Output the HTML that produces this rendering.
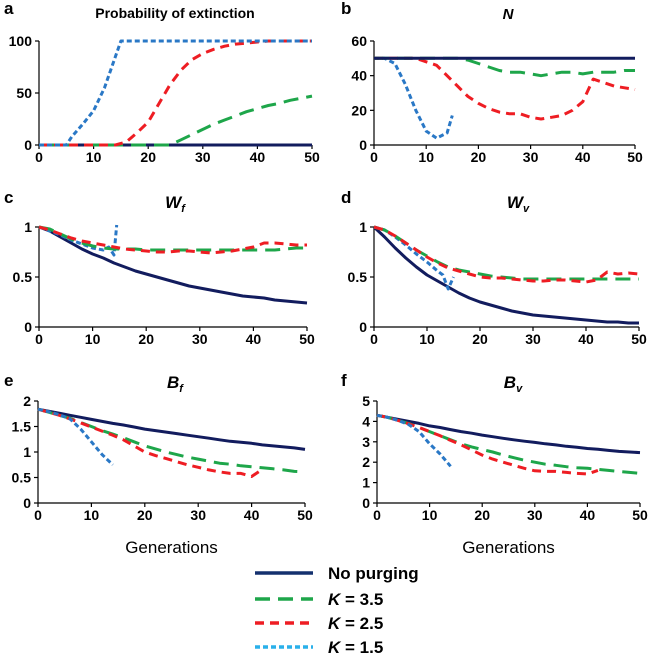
<!DOCTYPE html>
<html><head><meta charset="utf-8"><style>
html,body{margin:0;padding:0;background:#fff;}
svg{display:block;font-family:"Liberation Sans",sans-serif;}
</style></head><body>
<svg id="fig" width="651" height="655" viewBox="0 0 651 655" xmlns="http://www.w3.org/2000/svg"></svg>
<script>
// ---------- data ----------
const gens = [0,2,4,6,8,10,12,14,16,18,20,22,24,26,28,30,32,34,36,38,40,42,44,46,48,50];
const seriesNames = ["No purging","K = 3.5","K = 2.5","K = 1.5"];

const extNo  = [0,0,0,0,0,0,0,0,0,0,0,0,0,0,0,0,0,0,0,0,0,0,0,0,0,0];
const ext35  = [0,0,0,0,0,0,0,0,0,0,0,0,0,5,10,15,20,24,28,32,35,38,40,43,45,47];
const ext25  = [0,0,0,0,0,0,0,0,3,12,22,40,58,72,82,88,92,95,97,98,99,100,100,100,100,100];
const ext15Gens = [0,2,4,5,6,8,10,12,14,15,20,30,40,50];
const ext15  = [0,0,0,0,8,20,33,55,85,100,100,100,100,100];

const nNo = [50,50,50,50,50,50,50,50,50,50,50,50,50,50,50,50,50,50,50,50,50,50,50,50,50,50];
const n35 = [50,50,50,50,50,50,50,50,50,49,47,45,43,42,42,41,40,41,42,42,41,42,42,42,43,43];
const n25 = [50,50,50,50,50,48,46,40,34,28,24,21,19,18,18,16,15,16,17,20,25,38,36,34,33,32];
const n15Gens = [0,2,4,6,8,10,12,14,15];
const n15 = [50,50,47,35,20,8,4,7,17];

const wfNo = [1,.96,.9,.84,.78,.73,.69,.64,.6,.56,.53,.5,.47,.44,.41,.39,.37,.35,.33,.31,.3,.29,.27,.26,.25,.24];
const wf35 = [1,.98,.93,.88,.84,.81,.79,.78,.78,.78,.77,.77,.77,.77,.77,.77,.77,.77,.77,.77,.77,.77,.77,.78,.79,.79];
const wf25 = [1,.97,.93,.89,.86,.84,.82,.8,.78,.77,.76,.75,.75,.76,.76,.75,.74,.75,.76,.78,.8,.84,.84,.83,.82,.82];
const wf15Gens = [0,2,4,6,8,10,12,13,14,14.5];
const wf15 = [1,.96,.92,.87,.83,.79,.77,.8,.72,1.02];

const wvNo = [1,.9,.79,.69,.6,.52,.46,.4,.34,.29,.25,.22,.19,.16,.14,.12,.11,.1,.09,.08,.07,.06,.05,.05,.04,.04];
const wv35 = [1,.97,.91,.84,.77,.71,.65,.6,.57,.55,.53,.51,.5,.49,.48,.48,.48,.48,.48,.48,.48,.48,.48,.48,.48,.48];
const wv25 = [1,.97,.91,.84,.77,.7,.64,.59,.56,.53,.5,.49,.49,.48,.47,.46,.46,.47,.47,.46,.45,.47,.55,.53,.54,.53];
const wv15Gens = [0,2,4,6,8,10,12,13,14,15];
const wv15 = [1,.97,.9,.82,.73,.65,.56,.52,.38,.5];

const bfNo = [1.84,1.8,1.76,1.72,1.68,1.64,1.6,1.56,1.53,1.49,1.45,1.42,1.39,1.36,1.33,1.3,1.27,1.24,1.21,1.19,1.17,1.14,1.12,1.1,1.08,1.05];
const bf35 = [1.84,1.78,1.72,1.66,1.58,1.5,1.42,1.35,1.28,1.2,1.12,1.06,1.0,.95,.9,.86,.82,.78,.76,.73,.71,.69,.67,.65,.62,.61];
const bf25Gens = [0,2,4,6,8,10,12,14,16,18,20,22,24,26,28,30,32,34,36,38,40,42];
const bf25 = [1.84,1.78,1.72,1.65,1.57,1.49,1.41,1.33,1.24,1.12,1.0,.93,.87,.81,.75,.7,.65,.61,.58,.58,.52,.66];
const bf15Gens = [0,2,4,6,8,10,12,14];
const bf15 = [1.84,1.79,1.73,1.65,1.45,1.2,.95,.75];

const bvNo = [4.3,4.2,4.1,4.0,3.9,3.78,3.7,3.6,3.5,3.42,3.33,3.25,3.17,3.1,3.03,2.97,2.9,2.85,2.78,2.73,2.67,2.63,2.58,2.53,2.5,2.47];
const bv35 = [4.3,4.2,4.05,3.9,3.7,3.5,3.3,3.1,2.9,2.75,2.62,2.5,2.35,2.22,2.1,2.0,1.9,1.85,1.78,1.73,1.7,1.65,1.6,1.55,1.5,1.45];
const bv25Gens = [0,2,4,6,8,10,12,14,16,18,20,22,24,26,28,30,32,34,36,38,40,42];
const bv25 = [4.3,4.2,4.05,3.88,3.7,3.5,3.3,3.07,2.85,2.6,2.35,2.15,2.0,1.85,1.7,1.58,1.55,1.55,1.5,1.45,1.42,1.6];
const bv15Gens = [0,2,4,6,8,10,12,14];
const bv15 = [4.3,4.2,4.05,3.85,3.5,2.9,2.4,1.8];

const xTicks = [0,10,20,30,40,50];
const ticksA = [0,50,100];
const ticksB = [0,20,40,60];
const ticksW = [0,0.5,1];
const ticksBf = [0,0.5,1,1.5,2];
const ticksBv = [0,1,2,3,4,5];

// ---------- rendering ----------
const NS = "http://www.w3.org/2000/svg";
const svg = document.getElementById("fig");
const COL = ["#121c5e","#1ea64a","#ee1d23","#2a78c6"];
const DASH = [null,"15 8","9 6","5 3"];

function mk(tag, attrs, parent){
  const e = document.createElementNS(NS, tag);
  for (const k in attrs) e.setAttribute(k, attrs[k]);
  (parent||svg).appendChild(e);
  return e;
}

function panel(p){
  const g = mk("g",{});
  
  
  const sx = v => p.x0 + (v - 0) / 50 * (p.x1 - p.x0);
  const sy = v => p.y0 - (v - p.ymin) / (p.ymax - p.ymin) * (p.y0 - p.y1);
  // letter
  const L = mk("text",{x:p.lx, y:p.ly, "font-size":17, "font-weight":"bold", fill:"#000"}, g);
  L.textContent = p.letter;
  
  
  // title
  const T = mk("text",{x:p.tx, y:p.ty, "font-size":p.tsize||15, "font-weight":"bold", "text-anchor":"middle", fill:"#000"}, g);
  T.innerHTML = p.title;
  
  
  // axes
  const ax = mk("path",{d:`M${p.x0} ${p.y1} V${p.y0} H${p.x1}`, stroke:"#000", "stroke-width":1.2, fill:"none"}, g);
  
  
  p.yt.forEach(v=>{
    mk("line",{x1:p.x0-4,x2:p.x0,y1:sy(v),y2:sy(v),stroke:"#000","stroke-width":1.2}, g);
    const t = mk("text",{x:p.x0-7, y:sy(v)+5, "font-size":14, "font-weight":"bold", "text-anchor":"end", fill:"#000"}, g);
    t.textContent = String(v);
    
    
  });
  xTicks.forEach(v=>{
    mk("line",{x1:sx(v),x2:sx(v),y1:p.y0,y2:p.y0+4,stroke:"#000","stroke-width":1.2}, g);
    const t = mk("text",{x:sx(v), y:p.y0+17, "font-size":14, "font-weight":"bold", "text-anchor":"middle", fill:"#000"}, g);
    t.textContent = String(v);
    
    
  });
  if (p.xlabel){
    const t = mk("text",{x:(p.x0+p.x1)/2, y:p.y0+50, "font-size":17, "text-anchor":"middle", fill:"#000"}, g);
    t.textContent = "Generations";
    
    
  }
  // series (draw in order 3.5,2.5,1.5 then no-purging? reference: navy underneath dashed in a)
  const order = p.order || [0,1,2,3];
  order.forEach(i=>{
    const s = p.series[i];
    const d = s.y.map((v,j)=>(j?"L":"M")+sx(s.x[j]).toFixed(1)+" "+sy(v).toFixed(1)).join(" ");
    const a = {d:d, stroke:COL[i], "stroke-width":3, fill:"none", "stroke-linejoin":"round"};
    if (DASH[i]) a["stroke-dasharray"] = DASH[i];
    const path = mk("path", a, g);
    
    
  });
}

panel({name:"panel-a-extinction", letter:"a", lx:4, ly:14, title:"Probability  of extinction", tx:175, ty:18, tsize:14,
  x0:39, x1:312, y0:145, y1:41, ymin:0, ymax:100, yt:ticksA, order:[0,1,2,3],
  series:[{x:gens,y:extNo},{x:gens,y:ext35},{x:gens,y:ext25},{x:ext15Gens,y:ext15}]});
panel({name:"panel-b-N", letter:"b", lx:341, ly:14, title:'<tspan font-style="italic">N</tspan>', tx:508, ty:19,
  x0:374, x1:635, y0:145, y1:41, ymin:0, ymax:60, yt:ticksB, order:[3,2,1,0],
  series:[{x:gens,y:nNo},{x:gens,y:n35},{x:gens,y:n25},{x:n15Gens,y:n15}]});
panel({name:"panel-c-Wf", letter:"c", lx:4, ly:203, title:'<tspan font-style="italic" font-size="17">W</tspan><tspan font-style="italic" font-size="11" dy="4">f</tspan>', tx:175, ty:208,
  x0:39, x1:307, y0:327, y1:227, ymin:0, ymax:1, yt:ticksW, order:[0,3,1,2],
  series:[{x:gens,y:wfNo},{x:gens,y:wf35},{x:gens,y:wf25},{x:wf15Gens,y:wf15}]});
panel({name:"panel-d-Wv", letter:"d", lx:341, ly:203, title:'<tspan font-style="italic" font-size="17">W</tspan><tspan font-style="italic" font-size="11" dy="4">v</tspan>', tx:518, ty:208,
  x0:374, x1:639, y0:327, y1:227, ymin:0, ymax:1, yt:ticksW, order:[0,3,1,2],
  series:[{x:gens,y:wvNo},{x:gens,y:wv35},{x:gens,y:wv25},{x:wv15Gens,y:wv15}]});
panel({name:"panel-e-Bf", letter:"e", lx:4, ly:386, title:'<tspan font-style="italic" font-size="17">B</tspan><tspan font-style="italic" font-size="11" dy="4">f</tspan>', tx:175, ty:388,
  x0:38, x1:305, y0:503, y1:401, ymin:0, ymax:2, yt:ticksBf, order:[0,1,2,3], xlabel:true,
  series:[{x:gens,y:bfNo},{x:gens,y:bf35},{x:bf25Gens,y:bf25},{x:bf15Gens,y:bf15}]});
panel({name:"panel-f-Bv", letter:"f", lx:341, ly:386, title:'<tspan font-style="italic" font-size="17">B</tspan><tspan font-style="italic" font-size="11" dy="4">v</tspan>', tx:513, ty:388,
  x0:377, x1:640, y0:503, y1:401, ymin:0, ymax:5, yt:ticksBv, order:[0,1,2,3], xlabel:true,
  series:[{x:gens,y:bvNo},{x:gens,y:bv35},{x:bv25Gens,y:bv25},{x:bv15Gens,y:bv15}]});

// legend
const lg = mk("g",{});


const legY = [573,599,623,647];
const legCol = ["#14306e","#1ea64a","#ee1d23","#2ab0ea"];
seriesNames.forEach((n,i)=>{
  const a = {x1:255,x2:313,y1:legY[i],y2:legY[i],stroke:legCol[i],"stroke-width":3.5};
  if (DASH[i]) a["stroke-dasharray"] = DASH[i];
  const ln = mk("line",a,lg);
  
  
  const t = mk("text",{x:328,y:legY[i]+6,"font-size":17,"font-weight":"bold",fill:"#000"},lg);
  if (i===0) t.textContent = n;
  else t.innerHTML = '<tspan font-style="italic">K</tspan> = ' + n.split("= ")[1];
  
  
});
</script>
</body></html>
